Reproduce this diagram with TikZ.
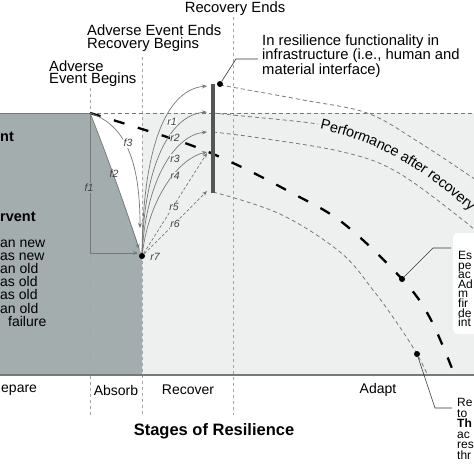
\documentclass[tikz,border=0pt]{standalone}
\usepackage{fontspec}
\setmainfont{Liberation Sans}
\usetikzlibrary{decorations.text,arrows.meta}
\definecolor{darkfill}{RGB}{163,173,173}
\definecolor{lightfill}{RGB}{238,240,240}
\definecolor{linegray}{RGB}{120,120,120}
\definecolor{divgray}{RGB}{165,165,165}
\definecolor{bargray}{RGB}{85,85,85}
\begin{document}
\begin{tikzpicture}[x=1pt,y=-1pt,
  thindash/.style={draw=linegray, line width=0.8pt, dash pattern=on 4pt off 3pt},
  divider/.style={draw=divgray, line width=0.8pt, dash pattern=on 3pt off 3pt},
  heavydash/.style={draw=black, line width=2.3pt, dash pattern=on 11pt off 14pt},
  flow/.style={draw=linegray, line width=0.7pt, -{Stealth[length=5pt,width=4pt]}},
  flowdash/.style={flow, dash pattern=on 3pt off 2pt},
  lbl/.style={font=\fontsize{14.8}{12.5}\selectfont, align=left, inner sep=0pt},
  frag/.style={font=\fontsize{14}{13.2}\selectfont, align=left, inner sep=0pt},
  side/.style={font=\fontsize{12}{9.6}\selectfont, align=left, inner sep=0pt},
  stage/.style={font=\fontsize{14}{14}\selectfont, inner sep=0pt},
  small/.style={font=\fontsize{10.5}{10.5}\selectfont\itshape, text=black!75, inner sep=0.8pt},
  dot/.style={circle, fill=black, inner sep=0pt, minimum size=6pt},
  leader/.style={draw=black!80, line width=0.6pt},
]
\useasboundingbox (0,0) rectangle (474,474);
\clip (0,0) rectangle (474,474);

% regions
\fill[lightfill] (142,375) -- (142,113) -- (474,113) -- (474,375) -- cycle;
\fill[darkfill] (0,113) -- (90,113) .. controls (105,150) and (125,205) .. (142,256) -- (142,375) -- (0,375) -- cycle;
\draw[linegray, line width=0.6pt] (0,113) -- (90,113);

% dividers and baseline
\draw[divider] (90,88) -- (90,415);
\draw[divider] (142,57) -- (142,415);
\draw[divider] (233,17) -- (233,415);
\draw[linegray, line width=1.2pt] (0,375) -- (474,375);
\draw[thindash] (90,113) -- (474,113);

% performance curves
\draw[thindash] plot[smooth, tension=0.6] coordinates {(220,85) (303,100) (367,113) (417,141) (476,180)};
\draw[thindash] (213,113) .. controls (260,118) and (290,120) .. (318,124);
\path[decorate, decoration={text along path, text={|\fontsize{14.5}{14.5}\selectfont|Performance after recovery}, raise=-5pt}] (321,124) .. controls (380,138) and (430,160) .. (530,260);
\draw[thindash] plot[smooth, tension=0.6] coordinates {(213,132) (260,138) (343,152) (397,172) (463,220) (480,236)};
\draw[thindash] plot[smooth, tension=0.6] coordinates {(213,192) (280,214) (340,252) (373,290) (397,323) (417,354) (428,376)};
\draw[heavydash] plot[smooth, tension=0.6] coordinates {(90,113) (182,142) (233,163) (290,192) (343,223) (402,279) (430,318) (455,376)};

% recovery bar
\draw[bargray, line width=4pt] (213,84) -- (213,193);

% absorb arrows
\node[dot] (r7) at (142,256) {};
\coordinate (ev) at (90,113);
\coordinate (f1c) at (90,253);
\draw[flow] (ev) -- (f1c) -- (138,253);
\draw[flow] (ev) .. controls (105,150) and (124,203) .. (139,249);
\draw[flow] (ev) .. controls (125,125) and (140,160) .. (140,228);
\node[small, fill=darkfill] (f1) at (89,188) {f1};
\node[small] (f2) at (114,174) {f2};
\node[small, fill=white] (f3) at (128,143) {f3};

% recovery arrows
\draw[flow] (r7) .. controls (143,150) and (165,90) .. (207,86);
\draw[flow] (r7) .. controls (144,165) and (170,115) .. (207,112);
\draw[flow] (r7) .. controls (146,180) and (175,135) .. (207,132);
\draw[flow] (r7) .. controls (150,195) and (180,158) .. (207,152);
\draw[flowdash] (r7) -- (207,153);
\draw[flowdash] (r7) -- (207,191);
\node[small, fill=white] (l1) at (172,122) {r1};
\node[small, fill=lightfill] (l2) at (175,138) {r2};
\node[small, fill=lightfill] (l3) at (175,159) {r3};
\node[small, fill=lightfill] (l4) at (175,176) {r4};
\node[small, fill=lightfill] (l5) at (174,207) {r5};
\node[small, fill=lightfill] (l6) at (175,224) {r6};
\node[small] (l7) at (155,257) {r7};

% top labels
\node[lbl, anchor=center] (recend) at (235,9) {Recovery Ends};
\node[lbl, anchor=west] (advend) at (87,38) {Adverse Event Ends\\Recovery Begins};
\node[lbl, anchor=west] (advbeg) at (49,73.5) {Adverse\\Event Begins};

% infrastructure callout
\node[dot] (d1) at (220,84) {};
\coordinate (k1) at (236,59);
\coordinate (k1e) at (258,59);
\node[lbl, anchor=west] (t1) at (262,56) {In resilience functionality in\\infrastructure (i.e., human and\\material interface)};
\draw[leader] (d1) -- (k1) -- (k1e);

% right callout 1
\fill[white, rounded corners=5pt] (453,233) rectangle (490,334);
\node[dot] (d2) at (402,279) {};
\coordinate (k2) at (433,248);
\coordinate (k2e) at (451,248);
\draw[leader] (d2) -- (k2) -- (k2e);
\node[side, anchor=west] (t2) at (458,289) {Es\\pe\\ac\\Ad\\m\\fir\\de\\int};

% right callout 2
\node[dot] (d3) at (417,354) {};
\coordinate (k3) at (435,408);
\coordinate (k3e) at (452,408);
\draw[leader] (d3) -- (k3) -- (k3e);
\node[side, font=\fontsize{12}{10.6}\selectfont, anchor=west] (t3) at (457,429) {Re\\to\\\textbf{Th}\\ac\\res\\thr};

% left fragments
\node[frag, font=\fontsize{14.5}{14}\selectfont\bfseries, anchor=west] (e1) at (0,137) {nt};
\node[frag, font=\fontsize{14.5}{14}\selectfont\bfseries, anchor=west] (e2) at (0,217) {rvent};
\node[frag, anchor=west] (e3) at (0,283) {an new\\as new\\an old\\as old\\as old\\an old\\\hspace*{8pt}failure};

% stage labels
\node[stage, anchor=west] (s0) at (1,390) {epare};
\node[stage] (s1) at (116,390) {Absorb};
\node[stage] (s2) at (188,390) {Recover};
\node[stage] (s3) at (378,390) {Adapt};
\node[font=\fontsize{16.5}{16.5}\selectfont\bfseries, inner sep=0pt] (title) at (214,431) {Stages of Resilience};
\end{tikzpicture}
\end{document}
